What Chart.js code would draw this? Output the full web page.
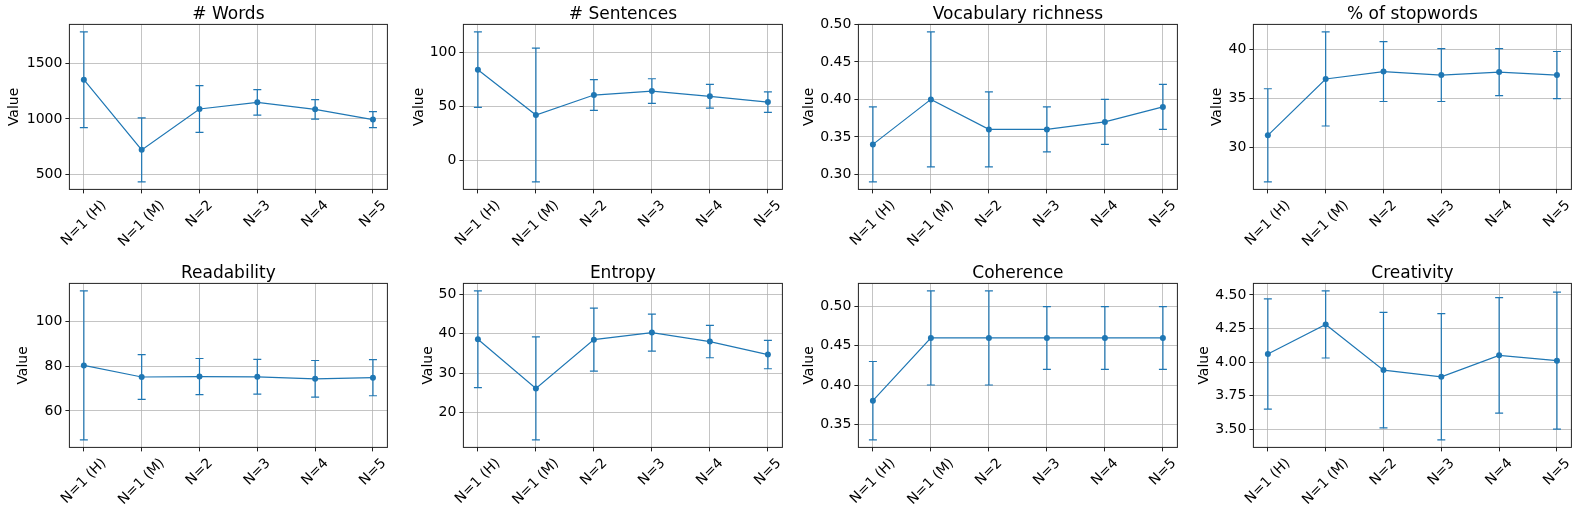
<!DOCTYPE html>
<html>
<head>
<meta charset="utf-8">
<script src="https://cdn.jsdelivr.net/npm/chart.js@4.4.1/dist/chart.umd.min.js"></script>
<style>
  html, body { margin: 0; padding: 0; background: #fff; }
  #figure { position: relative; width: 1581px; height: 516px; overflow: hidden; }
  .panel { position: absolute; }
</style>
</head>
<body>
<div id="figure"></div>
<script>
const categories = ['N=1 (H)', 'N=1 (M)', 'N=2', 'N=3', 'N=4', 'N=5'];

const wordsMean = [1355, 720, 1090, 1150, 1087, 994];
const wordsErr = [433, 290, 212, 115, 88, 72];
const wordsTicks = ['500', '1000', '1500'];

const sentencesMean = [84, 42, 60.5, 64.2, 59.3, 54];
const sentencesErr = [35, 62, 14.3, 11.4, 11, 9.5];
const sentencesTicks = ['0', '50', '100'];

const vocabMean = [0.34, 0.40, 0.36, 0.36, 0.37, 0.39];
const vocabErr = [0.05, 0.09, 0.05, 0.03, 0.03, 0.03];
const vocabTicks = ['0.30', '0.35', '0.40', '0.45', '0.50'];

const stopMean = [31.25, 37.0, 37.75, 37.4, 37.7, 37.4];
const stopErr = [4.75, 4.8, 3.05, 2.7, 2.4, 2.4];
const stopTicks = ['30', '35', '40'];

const readMean = [80.4, 75.2, 75.4, 75.3, 74.4, 74.9];
const readErr = [33.4, 10, 8.1, 7.8, 8.2, 8.1];
const readTicks = ['60', '80', '100'];

const entropyMean = [38.6, 26.1, 38.5, 40.3, 38.0, 34.7];
const entropyErr = [12.3, 13.1, 8.0, 4.7, 4.1, 3.6];
const entropyTicks = ['20', '30', '40', '50'];

const coherenceMean = [0.38, 0.46, 0.46, 0.46, 0.46, 0.46];
const coherenceErr = [0.05, 0.06, 0.06, 0.04, 0.04, 0.04];
const coherenceTicks = ['0.35', '0.40', '0.45', '0.50'];

const creativityMean = [4.06, 4.28, 3.94, 3.89, 4.05, 4.01];
const creativityErr = [0.41, 0.25, 0.43, 0.47, 0.43, 0.51];
const creativityTicks = ['3.50', '3.75', '4.00', '4.25', '4.50'];

const panels = [
    { title: '# Words', mean: wordsMean, err: wordsErr, ticks: wordsTicks },
    { title: '# Sentences', mean: sentencesMean, err: sentencesErr, ticks: sentencesTicks },
    { title: 'Vocabulary richness', mean: vocabMean, err: vocabErr, ticks: vocabTicks },
    { title: '% of stopwords', mean: stopMean, err: stopErr, ticks: stopTicks },
    { title: 'Readability', mean: readMean, err: readErr, ticks: readTicks },
    { title: 'Entropy', mean: entropyMean, err: entropyErr, ticks: entropyTicks },
    { title: 'Coherence', mean: coherenceMean, err: coherenceErr, ticks: coherenceTicks },
    { title: 'Creativity', mean: creativityMean, err: creativityErr, ticks: creativityTicks }
];

// where each axes box sits in the figure (px)
const plotCols = [[69, 387], [463, 782], [858, 1177], [1253, 1571]];
const plotRows = [[24, 189], [283, 447]];
const ylabelX = [14, 419, 809, 1217, 23, 428, 809, 1204];

const blue = '#1f77b4';
const family = '"DejaVu Sans", sans-serif';
const gridColor = 'rgba(176,176,176,0.75)';
const titleH = 17 * 1.2;
const xAxisH = 65;

// vertical error bars with caps, drawn under the line
const errorBars = {
    id: 'errorBars',
    beforeDatasetsDraw(chart) {
        const { ctx, scales: { x, y } } = chart;
        const ds = chart.data.datasets[0];
        ctx.save();
        ctx.strokeStyle = blue;
        ctx.lineWidth = 1.2;
        ds.means.forEach((m, i) => {
            const px = x.getPixelForValue(i);
            const top = y.getPixelForValue(m + ds.errors[i]);
            const bot = y.getPixelForValue(m - ds.errors[i]);
            ctx.beginPath();
            ctx.moveTo(px, top); ctx.lineTo(px, bot);
            ctx.moveTo(px - 4, top); ctx.lineTo(px + 4, top);
            ctx.moveTo(px - 4, bot); ctx.lineTo(px + 4, bot);
            ctx.stroke();
        });
        ctx.restore();
    }
};

// box around the axes + rotated category labels centred on their ticks
const frameAndLabels = {
    id: 'frameAndLabels',
    afterDraw(chart) {
        const { ctx, chartArea: a, scales: { x } } = chart;
        ctx.save();
        ctx.strokeStyle = '#222';
        ctx.lineWidth = 1;
        ctx.strokeRect(a.left, a.top, a.right - a.left, a.bottom - a.top);
        ctx.font = '14px ' + family;
        ctx.fillStyle = '#000';
        ctx.textAlign = 'center';
        ctx.textBaseline = 'middle';
        categories.forEach((c, i) => {
            const w = ctx.measureText(c).width;
            const half = (w + 16) * Math.SQRT1_2 / 2;
            ctx.save();
            ctx.translate(x.getPixelForValue(i), a.bottom + 8 + half);
            ctx.rotate(-Math.PI / 4);
            ctx.fillText(c, 0, 0);
            ctx.restore();
        });
        ctx.restore();
    }
};

const figure = document.getElementById('figure');

panels.forEach((p, k) => {
    const [plotLeft, plotRight] = plotCols[k % 4];
    const [plotTop, plotBottom] = plotRows[Math.floor(k / 4)];
    const left = ylabelX[k] - 8.4;
    const top = plotTop - titleH;
    const yWidth = plotLeft - left;

    const div = document.createElement('div');
    div.className = 'panel';
    div.style.left = left + 'px';
    div.style.top = top + 'px';
    div.style.width = (plotRight + 8 - left) + 'px';
    div.style.height = (titleH + plotBottom - plotTop + xAxisH) + 'px';
    const canvas = document.createElement('canvas');
    div.appendChild(canvas);
    figure.appendChild(div);

    // matplotlib-like autoscale: data extent incl. error bars + 5% margin
    const lo = Math.min(...p.mean.map((m, i) => m - p.err[i]));
    const hi = Math.max(...p.mean.map((m, i) => m + p.err[i]));
    const pad = (hi - lo) * 0.05;

    new Chart(canvas, {
        type: 'line',
        data: {
            datasets: [{
                data: p.mean.map((m, i) => ({ x: i, y: m })),
                means: p.mean,
                errors: p.err,
                borderColor: blue,
                backgroundColor: blue,
                borderWidth: 1.2,
                pointRadius: 3,
                pointBorderWidth: 0,
                pointBackgroundColor: blue,
                tension: 0
            }]
        },
        options: {
            responsive: true,
            maintainAspectRatio: false,
            animation: false,
            layout: { padding: { left: 0, right: 8, top: 0, bottom: 0 } },
            plugins: {
                legend: { display: false },
                tooltip: { enabled: false },
                title: {
                    display: true,
                    text: p.title,
                    color: '#000',
                    fullSize: false,
                    padding: 0,
                    font: { family: family, size: 17, weight: 'normal' }
                }
            },
            scales: {
                x: {
                    type: 'linear',
                    min: -0.25,
                    max: 5.25,
                    afterBuildTicks: s => { s.ticks = categories.map((c, i) => ({ value: i })); },
                    afterFit: s => { s.height = xAxisH; },
                    ticks: { display: false },
                    grid: { color: gridColor, tickColor: '#222', tickLength: 4 },
                    border: { display: false }
                },
                y: {
                    min: lo - pad,
                    max: hi + pad,
                    afterBuildTicks: s => { s.ticks = p.ticks.map(t => ({ value: parseFloat(t) })); },
                    afterFit: s => { s.width = yWidth; },
                    ticks: {
                        color: '#000',
                        padding: 3,
                        font: { family: family, size: 14 },
                        callback: (v, i) => p.ticks[i]
                    },
                    title: {
                        display: true,
                        text: 'Value',
                        color: '#000',
                        padding: 0,
                        font: { family: family, size: 14 }
                    },
                    grid: { color: gridColor, tickColor: '#222', tickLength: 4 },
                    border: { display: false }
                }
            }
        },
        plugins: [errorBars, frameAndLabels]
    });
});
</script>
</body>
</html>
